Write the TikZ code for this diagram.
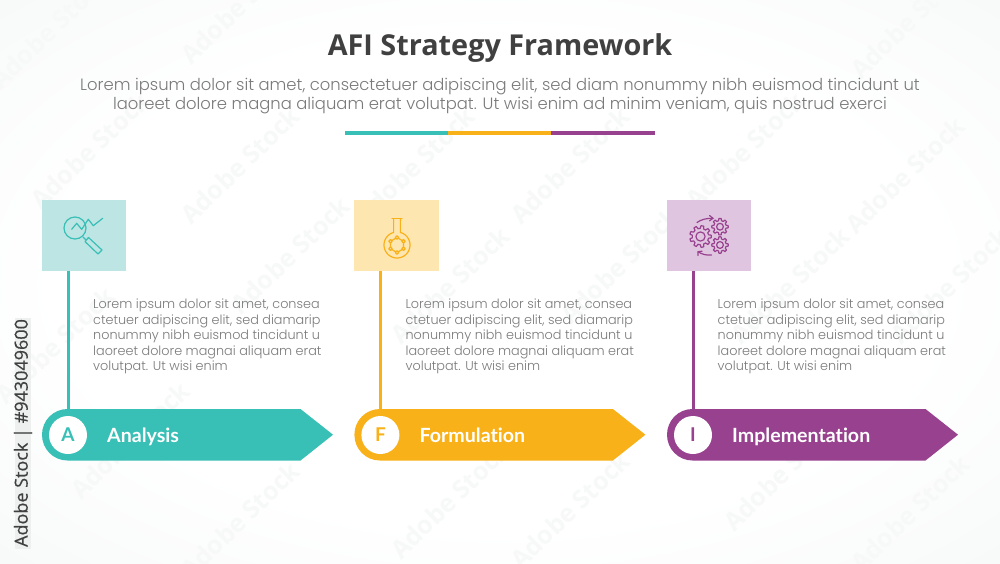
\documentclass[tikz,border=0pt]{standalone}
\usepackage{fontspec}
\setmainfont{Poppins Light}
\newfontfamily\titlefont{Open Sans}
\newfontfamily\stockfont[FakeBold=0.5]{Open Sans}
\newfontfamily\labelfont[Ligatures=CommonOff]{Lato}
\usetikzlibrary{calc}
\definecolor{teal}{HTML}{38BFB6}
\definecolor{gold}{HTML}{F8B118}
\definecolor{plum}{HTML}{98418F}
\definecolor{teallt}{HTML}{BDE5E4}
\definecolor{goldlt}{HTML}{FEE6B0}
\definecolor{plumlt}{HTML}{E0C5E0}
\definecolor{edgebg}{HTML}{F0F3F3}
\definecolor{ink}{HTML}{404040}
\definecolor{bodygray}{HTML}{7A7A7A}
\definecolor{wmgray}{HTML}{F7F8F8}
\definecolor{halo}{HTML}{EEF0F0}
\pgfdeclareradialshading{bgshade}{\pgfpointorigin}{color(0bp)=(white);color(22bp)=(white);color(50bp)=(edgebg)}
\newcommand{\lorem}{Lorem ipsum dolor sit amet, consea\\ctetuer adipiscing elit, sed diamarip\\nonummy nibh euismod tincidunt u\\laoreet dolore magnai aliquam erat\\volutpat. Ut wisi enim}
% gear: x, y, outer r, inner r, hole r, teeth
\newcommand{\geardraw}[6]{%
  \draw[iconline,shift={(#1,#2)}] (0:#3)
    \foreach \k in {1,...,#6}{
      -- ({(\k-1)*360/#6+0.18*360/#6}:#3)
      -- ({(\k-1)*360/#6+0.30*360/#6}:#4)
      -- ({(\k-1)*360/#6+0.70*360/#6}:#4)
      -- ({(\k-1)*360/#6+0.82*360/#6}:#3)
      -- ({\k*360/#6}:#3)
    } -- cycle;
  \draw[iconline,shift={(#1,#2)}] (0,0) circle (#5);
}
\tikzset{
  x=1pt,y=-1pt,
  iconbox/.style={draw=none,fill=#1,minimum width=84.5pt,minimum height=71pt,inner sep=0pt,outer sep=0pt},
  badge/.style={circle,fill=white,minimum size=38pt,inner sep=0pt,font=\labelfont\bfseries\fontsize{19}{19}\selectfont,text=#1},
  banner/.style={fill=#1},
  connector/.style={draw=#1,line width=3pt},
  bannertext/.style={anchor=base west,inner sep=0pt,text=white,font=\labelfont\bfseries\fontsize{19.6}{19.6}\selectfont},
  bodytext/.style={anchor=north west,inner sep=0pt,align=left,text=bodygray,font=\fontsize{12.8}{15.5}\selectfont},
  subtext/.style={inner sep=0pt,align=center,text=bodygray,font=\fontsize{16.4}{19.2}\selectfont},
  iconline/.style={draw=icn,line width=1.2pt,line join=round,line cap=round,fill=none},
  watermark/.style={rotate=44,text=wmgray,font=\titlefont\bfseries\fontsize{25}{25}\selectfont,inner sep=0pt},
}
\begin{document}
\begin{tikzpicture}
\useasboundingbox (0,0) rectangle (1000,563);
\clip (0,0) rectangle (1000,563);
\shade[shading=bgshade] (0,0) rectangle (1000,563);
% watermarks
\foreach \mx/\my in {50/30,240/5,910/20,
  90/150,240/165,415/165,570/165,745/150,905/175,
  290/255,450/285,620/265,790/285,950/285,
  55/345,130/440,
  240/520,450/500,570/510,783/472,910/513}{
  \node[watermark] (wm\mx) at (\mx,\my) {Adobe Stock};
}
% heading
\node[inner sep=0pt,text=ink,font=\titlefont\bfseries\fontsize{28.8}{28.8}\selectfont] (title) at (500,48) {AFI Strategy Framework};
\node[subtext] (sub) at (500,96) {Lorem ipsum dolor sit amet, consectetuer adipiscing elit, sed diam nonummy nibh euismod tincidunt ut\\laoreet dolore magna aliquam erat volutpat. Ut wisi enim ad minim veniam, quis nostrud exerci};
\fill[teal] (345,130.5) rectangle (448,134.5);
\fill[gold] (448,130.5) rectangle (551,134.5);
\fill[plum] (551,130.5) rectangle (655,134.5);
% columns
\foreach \nm/\ox/\col/\lt/\letter/\word in {a/0/teal/teallt/A/Analysis,f/312.4/gold/goldlt/F/Formulation,i/625/plum/plumlt/I/Implementation}{
  \begin{scope}[xshift=\ox pt]
    \fill[banner=\col] (67.5,409) -- (300.5,409) -- (333,434.7) -- (300.5,460.5) -- (67.5,460.5) .. controls (53.3,460.5) and (42,449) .. (42,434.75) .. controls (42,420.5) and (53.3,409) .. (67.5,409) -- cycle;
    \node[iconbox=\lt] (box\nm) at (84.2,235.5) {};
    \node[badge=\col] (cir\nm) at (68,435) {\letter};
    \draw[connector=\col] (box\nm.south -| cir\nm) -- (cir\nm.north);
    \node[bannertext] (lab\nm) at (107,442) {\word};
    \node[bodytext] (txt\nm) at ({\ox==625 ? 92.5 : 93},299) {\lorem};
  \end{scope}
}
% icon: analysis
\colorlet{icn}{teal}
\draw[iconline] (75,228) circle (11);
\draw[iconline] (71.7,229.3) -- (76.7,223.3) -- (81.7,229.3) -- (88.3,219.3) -- (93.3,225.7) -- (102.7,218.3);
\draw[iconline] (83,237) -- (86,240);
\draw[iconline] (88.5,237.5) -- (102,250) -- (98,254) -- (85,241.5) -- cycle;
% icon: flask
\colorlet{icn}{gold}
\draw[iconline] (393.6,218.5) -- (393.6,232.4) -- plot[domain=-105:-435,samples=60] ({397+13*cos(\x)},{245+13*sin(\x)}) -- (400.4,218.5);
\draw[iconline] (392,218.3) -- (402,218.3);
\draw[iconline] (397,245) ++(90:7.5) -- ++(-30:7.5) -- ++(-90:7.5) -- ++(-150:7.5) -- ++(150:7.5) -- ++(90:7.5) -- cycle;
\foreach \a in {30,90,150,210,270,330}{
  \draw[iconline,fill=goldlt] (397,245) ++(\a:7.5) circle (1.8);
}
% icon: gears
\colorlet{icn}{plum}
\geardraw{700.5}{236.5}{10.8}{8.2}{4.6}{9}
\geardraw{720}{226.7}{8.2}{6.2}{3.4}{8}
\geardraw{720}{245}{8.2}{6.2}{3.4}{8}
\draw[iconline] (697,222.5) .. controls (701,219.5) and (707,218) .. (713,218.3);
\draw[iconline] (709.5,215.5) -- (713,218.3) -- (709.5,220.8);
\draw[iconline] (711.5,255) .. controls (707,255.5) and (702,254.5) .. (698,251.7);
\draw[iconline] (698,255.5) -- (698,251.7) -- (702,251.2);
% stock line
\fill[halo] (15,318) rectangle (31,549);
\node[rotate=90,inner sep=0pt,text=ink,font=\stockfont\fontsize{18}{18}\selectfont] (stock) at (23,433) {Adobe Stock | \#943049600};
\end{tikzpicture}
\end{document}
